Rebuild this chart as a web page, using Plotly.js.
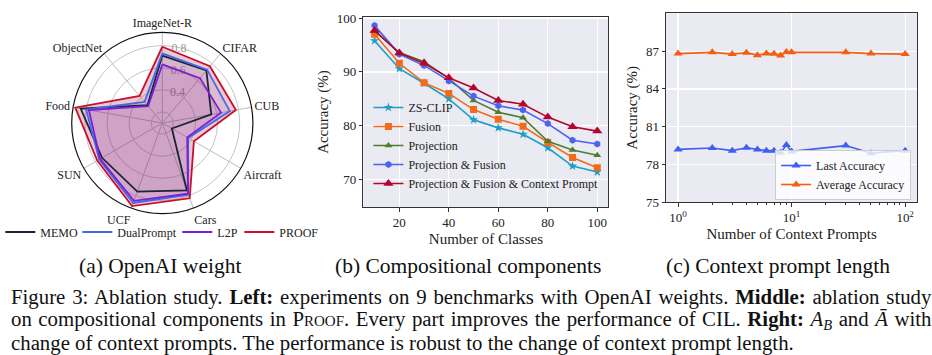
<!DOCTYPE html>
<html>
<head>
<meta charset="utf-8">
<script src="https://cdn.plot.ly/plotly-3.0.1.min.js"></script>
<style>
html,body{margin:0;padding:0;background:#fff;}
#chart{width:932px;height:355px;}
</style>
</head>
<body>
<div id="chart"></div>
<script>
// ---------- (a) radar data ----------
const radarCats = ['ImageNet-R','CIFAR','CUB','Aircraft','Cars','UCF','SUN','Food','ObjectNet'];
const memoVals  = [0.71, 0.72, 0.55, 0.20, 0.75, 0.76, 0.73, 0.85, 0.31];
const dualVals  = [0.73, 0.73, 0.72, 0.37, 0.79, 0.87, 0.76, 0.80, 0.35];
const l2pVals   = [0.63, 0.63, 0.64, 0.36, 0.78, 0.85, 0.75, 0.775, 0.30];
const proofVals = [0.79, 0.77, 0.776, 0.43, 0.825, 0.90, 0.78, 0.90, 0.42];
const radarNames = ['MEMO','DualPrompt','L2P','PROOF'];
const radarTicks = [0.2, 0.4, 0.6, 0.8];
const radarTickText = ['', '0.4', '0.6', '0.8'];

// ---------- (b) compositional components ----------
const numClasses = [10,20,30,40,50,60,70,80,90,100];
const zsClip     = [95.8, 90.6, 87.9, 85.0, 81.1, 79.6, 78.4, 75.9, 72.5, 71.4];
const fusion     = [97.0, 91.6, 88.0, 86.0, 83.0, 81.2, 79.9, 76.9, 74.1, 72.2];
const projection = [97.6, 93.6, 91.9, 88.8, 84.7, 82.5, 81.5, 77.1, 75.5, 74.5];
const projFusion = [98.6, 93.3, 91.2, 88.3, 85.5, 83.7, 82.9, 80.4, 77.3, 76.6];
const projFusionCtx = [97.7, 93.5, 91.6, 88.9, 87.0, 84.7, 84.0, 81.6, 79.8, 79.0];
const compNames = ['ZS-CLIP','Fusion','Projection','Projection & Fusion','Projection & Fusion & Context Prompt'];
const classTicks = [20,40,60,80,100];
const accTicksB = [70,80,90,100];

// ---------- (c) context prompt length ----------
const numPrompts = [1,2,3,4,5,6,7,8,9,10,30,50,100];
const lastAcc = [79.2, 79.31, 79.1, 79.33, 79.2, 79.1, 79.1, 78.94, 79.55, 79.04, 79.5, 78.9, 79.1];
const avgAcc  = [86.8, 86.9, 86.76, 86.87, 86.68, 86.8, 86.79, 86.66, 86.92, 86.9, 86.9, 86.8, 86.76];
const promptNames = ['Last Accuracy','Average Accuracy'];
const promptTickVals = [1,10,100];
const promptTickText = ['10<sup>0</sup>','10<sup>1</sup>','10<sup>2</sup>'];
const promptMinor = [2,3,4,5,6,7,8,9,20,30,40,50,60,70,80,90];
const accTicksC = [75,78,81,84,87];

// ---------- caption text ----------
const subCaptions = ['(a) OpenAI weight', '(b) Compositional components', '(c) Context prompt length'];
const captionLines = [
  'Figure 3: Ablation study. <b>Left:</b> experiments on 9 benchmarks with OpenAI weights. <b>Middle:</b> ablation study',
  'on compositional components in P<span style="font-size:15px">ROOF</span>. Every part improves the performance of CIL. <b>Right:</b> <i>A<sub>B</sub></i> and <i>Ā</i> with',
  'change of context prompts. The performance is robust to the change of context prompt length.'
];

// ---------- helpers ----------
const W = 932, H = 355;
const px = x => x / W;
const py = y => 1 - y / H;
const SERIF = 'Liberation Serif, Times New Roman, Tinos, Times, DejaVu Serif, serif';
const close = a => a.concat([a[0]]);

const radarColors = ['#1d2535', '#4169ea', '#7a1fd6', '#c8102e'];
const radarFill = ['rgba(29,37,53,0.04)','rgba(65,105,234,0.10)','rgba(122,31,214,0.12)','rgba(178,18,58,0.23)'];
const radarSeries = [memoVals, dualVals, l2pVals, proofVals];
const radarLegendWidth = [32, 55, 17, 36];
const radarAxisAngle = 88;

const traces = [];
radarSeries.forEach((vals, i) => {
  traces.push({
    type: 'scatterpolar', subplot: 'polar',
    r: close(vals), theta: close(radarCats),
    mode: 'lines', fill: 'toself', fillcolor: radarFill[i],
    line: {color: 'rgba(0,0,0,0)', width: 0},
    name: radarNames[i], showlegend: false, hoverinfo: 'skip'
  });
});
radarSeries.forEach((vals, i) => {
  traces.push({
    type: 'scatterpolar', subplot: 'polar',
    r: close(vals), theta: close(radarCats),
    mode: 'lines',
    line: {color: radarColors[i], width: 1.8},
    name: radarNames[i], legend: 'legend', legendwidth: radarLegendWidth[i]
  });
});

const compColors = ['#1c9ec6', '#f26a1b', '#4e7d2e', '#4b62f2', '#b5052f'];
const compSymbols = ['star', 'square', 'triangle-up', 'hexagon', 'triangle-up'];
const compSizes = [7, 7, 7, 7, 9];
[zsClip, fusion, projection, projFusion, projFusionCtx].forEach((vals, i) => {
  traces.push({
    type: 'scatter', xaxis: 'x', yaxis: 'y',
    x: numClasses, y: vals, mode: 'lines+markers',
    line: {color: compColors[i], width: 1.6},
    marker: {color: compColors[i], symbol: compSymbols[i], size: compSizes[i]},
    name: compNames[i], legend: 'legend2'
  });
});

const promptColors = ['#3f5ff0', '#f55e10'];
[lastAcc, avgAcc].forEach((vals, i) => {
  traces.push({
    type: 'scatter', xaxis: 'x2', yaxis: 'y2',
    x: numPrompts, y: vals, mode: 'lines+markers',
    line: {color: promptColors[i], width: 1.6},
    marker: {color: promptColors[i], symbol: 'triangle-up', size: 8},
    name: promptNames[i], legend: 'legend3'
  });
});

const axisCommon = {
  showline: true, mirror: true, linecolor: '#333', linewidth: 1,
  gridcolor: '#ffffff', gridwidth: 1.2, zeroline: false,
  ticks: 'outside', ticklen: 3.5, tickcolor: '#333',
  tickfont: {family: SERIF, size: 13, color: '#222'}
};
const titleFont = {family: SERIF, size: 15, color: '#222'};
const capFont = {family: SERIF, size: 20.8, color: '#111'};

const subCapX = [157, 466, 777];
const capY = [297, 320, 343];

const layout = {
  width: W, height: H,
  margin: {l: 0, r: 0, t: 0, b: 0},
  paper_bgcolor: '#ffffff',
  font: {family: SERIF, color: '#222'},
  showlegend: true,
  polar: {
    domain: {x: [px(68), px(250)], y: [py(214), py(32)]},
    bgcolor: '#ffffff',
    angularaxis: {
      direction: 'clockwise', rotation: 90,
      showline: true, linecolor: '#111', linewidth: 1.2,
      gridcolor: '#bdbdbd', gridwidth: 1,
      ticks: '', tickfont: {family: SERIF, size: 12, color: '#222'},
      layer: 'below traces'
    },
    radialaxis: {
      range: [0.1, 0.92], angle: radarAxisAngle, tickangle: radarAxisAngle,
      tickvals: radarTicks, ticktext: radarTickText,
      showline: false, ticks: '', gridcolor: '#c4c4c4', gridwidth: 1,
      tickfont: {family: SERIF, size: 12, color: '#999'},
      layer: 'below traces'
    }
  },
  xaxis: Object.assign({}, axisCommon, {
    domain: [px(361), px(607)], anchor: 'y',
    range: [5.5, 104.5], tickvals: classTicks,
    title: {text: 'Number of Classes', font: titleFont, standoff: 4}
  }),
  yaxis: Object.assign({}, axisCommon, {
    domain: [py(207), py(17)], anchor: 'x',
    range: [64.9, 100.2], tickvals: accTicksB,
    title: {text: 'Accuracy (%)', font: titleFont, standoff: 4}
  }),
  xaxis2: Object.assign({}, axisCommon, {
    domain: [px(665), px(917)], anchor: 'y2', type: 'log',
    range: [-0.105, 2.105], tickvals: promptTickVals, ticktext: promptTickText,
    minor: {tickvals: promptMinor, ticks: 'outside', ticklen: 2, tickcolor: '#333', showgrid: false},
    title: {text: 'Number of Context Prompts', font: titleFont, standoff: 4}
  }),
  yaxis2: Object.assign({}, axisCommon, {
    domain: [py(202.3), py(13.3)], anchor: 'x2',
    range: [75, 90], tickvals: accTicksC,
    title: {text: 'Accuracy (%)', font: titleFont, standoff: 4}
  }),
  plot_bgcolor: '#eaeaf2',
  legend: {
    orientation: 'h', x: px(157), y: py(232), xanchor: 'center', yanchor: 'middle',
    font: {family: SERIF, size: 12, color: '#222'}, itemwidth: 30,
    bgcolor: 'rgba(0,0,0,0)', tracegroupgap: 0
  },
  legend2: {
    x: px(366), y: py(198), xanchor: 'left', yanchor: 'bottom',
    font: {family: SERIF, size: 12, color: '#222'}, itemwidth: 30,
    bgcolor: 'rgba(0,0,0,0)'
  },
  legend3: {
    x: px(911), y: py(200), xanchor: 'right', yanchor: 'bottom',
    font: {family: SERIF, size: 12, color: '#222'}, itemwidth: 30,
    bgcolor: 'rgba(255,255,255,0.8)', bordercolor: '#cccccc', borderwidth: 1
  },
  annotations: subCaptions.map((t, i) => ({
      text: t, x: px(subCapX[i]), y: py(266), xref: 'paper', yref: 'paper', showarrow: false,
      xanchor: 'center', yanchor: 'middle', font: {family: SERIF, size: 21.5, color: '#111'}
    })).concat(captionLines.map((t, i) => ({
      text: t, x: px(5), y: py(capY[i]), xref: 'paper', yref: 'paper', showarrow: false,
      xanchor: 'left', yanchor: 'middle', font: capFont
    })))
};

const gd = document.getElementById('chart');
Plotly.newPlot(gd, traces, layout, {displayModeBar: false, staticPlot: true}).then(() => {
  // justify the first two caption lines to the full text width, like the reference
  const targetWidth = 921;
  const update = {};
  [0, 1].forEach(k => {
    const idx = subCaptions.length + k;
    const node = gd.querySelector('.annotation[data-index="' + idx + '"] text');
    if (!node) return;
    const w = node.getBBox().width;
    const plain = node.textContent || '';
    const gaps = (plain.match(/ /g) || []).length;
    if (gaps > 0 && w > 0 && w < targetWidth) {
      const ws = (targetWidth - w) / gaps;
      update['annotations[' + idx + '].text'] = '<span style="word-spacing:' + ws.toFixed(2) + 'px">' + captionLines[k] + '</span>';
    }
  });
  if (Object.keys(update).length) return Plotly.relayout(gd, update);
});
</script>
</body>
</html>
